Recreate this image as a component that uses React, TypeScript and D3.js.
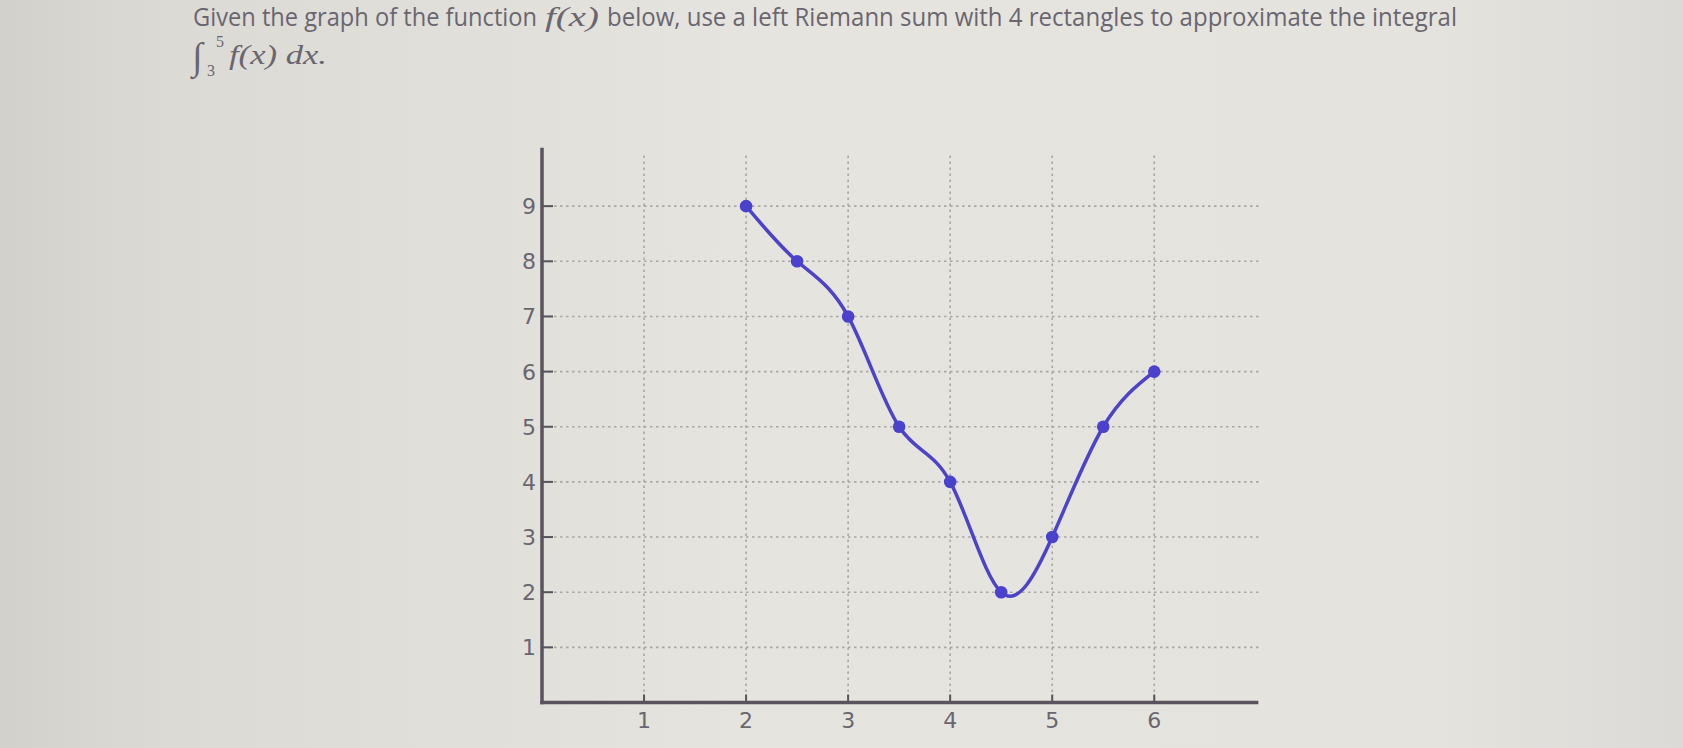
import React from "react";
import * as d3 from "d3";

const xs = [2, 2.5, 3, 3.5, 4, 4.5, 5, 5.5, 6];
const ys = [9, 8, 7, 5, 4, 2, 3, 5, 6];
const xTicks = [1, 2, 3, 4, 5, 6];
const yTicks = [1, 2, 3, 4, 5, 6, 7, 8, 9];
const titleStart = "Given the graph of the function";
const titleEnd = "below, use a left Riemann sum with 4 rectangles to approximate the integral";

export default function App() {
  const W = 1683, H = 748;
  const x = d3.scaleLinear().domain([0, 7]).range([542, 1256.3]);
  const y = d3.scaleLinear().domain([0, 10]).range([702.5, 151]);
  const pts = xs.map((v, i) => [v, ys[i]] as [number, number]);
  const line = d3
    .line<[number, number]>()
    .x((d) => x(d[0]))
    .y((d) => y(d[1]))
    .curve(d3.curveNatural);

  const textColor = "#6a6670";
  const axisColor = "#5a525c";
  const gridColor = "#aaa7a4";
  const curveColor = "#4c43c8";
  const dotColor = "#4a42cc";
  const mathFont = "'Liberation Serif', 'DejaVu Serif', serif";

  return (
    <svg
      width={W}
      height={H}
      style={{ position: "absolute", left: 0, top: 0 }}
      xmlns="http://www.w3.org/2000/svg"
    >
      <defs>
        <linearGradient id="bg" x1="0" y1="0" x2="1" y2="0">
          <stop offset="0%" stopColor="#d3d1cc" />
          <stop offset="10%" stopColor="#dcdad5" />
          <stop offset="45%" stopColor="#e6e4df" />
          <stop offset="85%" stopColor="#e5e3de" />
          <stop offset="100%" stopColor="#dcdad6" />
        </linearGradient>
      </defs>
      <rect x={0} y={0} width={W} height={H} fill="url(#bg)" />

      {/* title line 1 */}
      <g fill={textColor}>
        <text x={193} y={26} fontFamily="'Open Sans', sans-serif" fontSize={26}
          textLength={344} lengthAdjust="spacingAndGlyphs">{titleStart}</text>
        <text x={545} y={26} fontFamily={mathFont} fontSize={28} fontStyle="italic"
          textLength={54} lengthAdjust="spacingAndGlyphs">f(x)</text>
        <text x={607} y={26} fontFamily="'Open Sans', sans-serif" fontSize={26}
          textLength={850} lengthAdjust="spacingAndGlyphs">{titleEnd}</text>
      </g>
      {/* title line 2 */}
      <g fill={textColor} fontFamily={mathFont}>
        <text x={192} y={69} fontSize={38} fontStyle="italic">∫</text>
        <text x={216} y={47} fontSize={16}>5</text>
        <text x={207} y={76} fontSize={16}>3</text>
        <text x={229} y={64} fontSize={27} fontStyle="italic" textLength={98} lengthAdjust="spacingAndGlyphs">
          f(x) dx.
        </text>
      </g>

      {/* grid */}
      <g stroke={gridColor} strokeWidth={1.6} strokeDasharray="2.5,3.5">
        {xTicks.map((t) => (
          <line key={"gx" + t} x1={x(t)} x2={x(t)} y1={y(9.92)} y2={y(0)} />
        ))}
        {yTicks.map((t) => (
          <line key={"gy" + t} x1={x(0)} x2={x(7.03)} y1={y(t)} y2={y(t)} />
        ))}
      </g>

      {/* axes */}
      <g stroke={axisColor} strokeWidth={3.5} fill="none">
        <line x1={x(0)} x2={x(0)} y1={y(10.06)} y2={y(0) + 1.7} />
        <line x1={x(0) - 1.7} x2={x(7.02)} y1={y(0)} y2={y(0)} />
      </g>
      <g stroke={axisColor} strokeWidth={2}>
        {yTicks.map((t) => (
          <line key={"ty" + t} x1={x(0)} x2={x(0) + 11} y1={y(t)} y2={y(t)} />
        ))}
        {xTicks.map((t) => (
          <line key={"tx" + t} x1={x(t)} x2={x(t)} y1={y(0)} y2={y(0) - 8} />
        ))}
      </g>
      <g fill={textColor} fontFamily="'DejaVu Sans', sans-serif" fontSize={22}>
        {yTicks.map((t) => (
          <text key={"ly" + t} x={x(0) - 6} y={y(t)} dy="0.36em" textAnchor="end">
            {t}
          </text>
        ))}
        {xTicks.map((t) => (
          <text key={"lx" + t} x={x(t)} y={728} textAnchor="middle">
            {t}
          </text>
        ))}
      </g>

      {/* curve */}
      <path d={line(pts) || ""} fill="none" stroke={curveColor} strokeWidth={3.5} />
      {pts.map((p, i) => (
        <circle key={"p" + i} cx={x(p[0])} cy={y(p[1])} r={6.3} fill={dotColor} />
      ))}
    </svg>
  );
}
